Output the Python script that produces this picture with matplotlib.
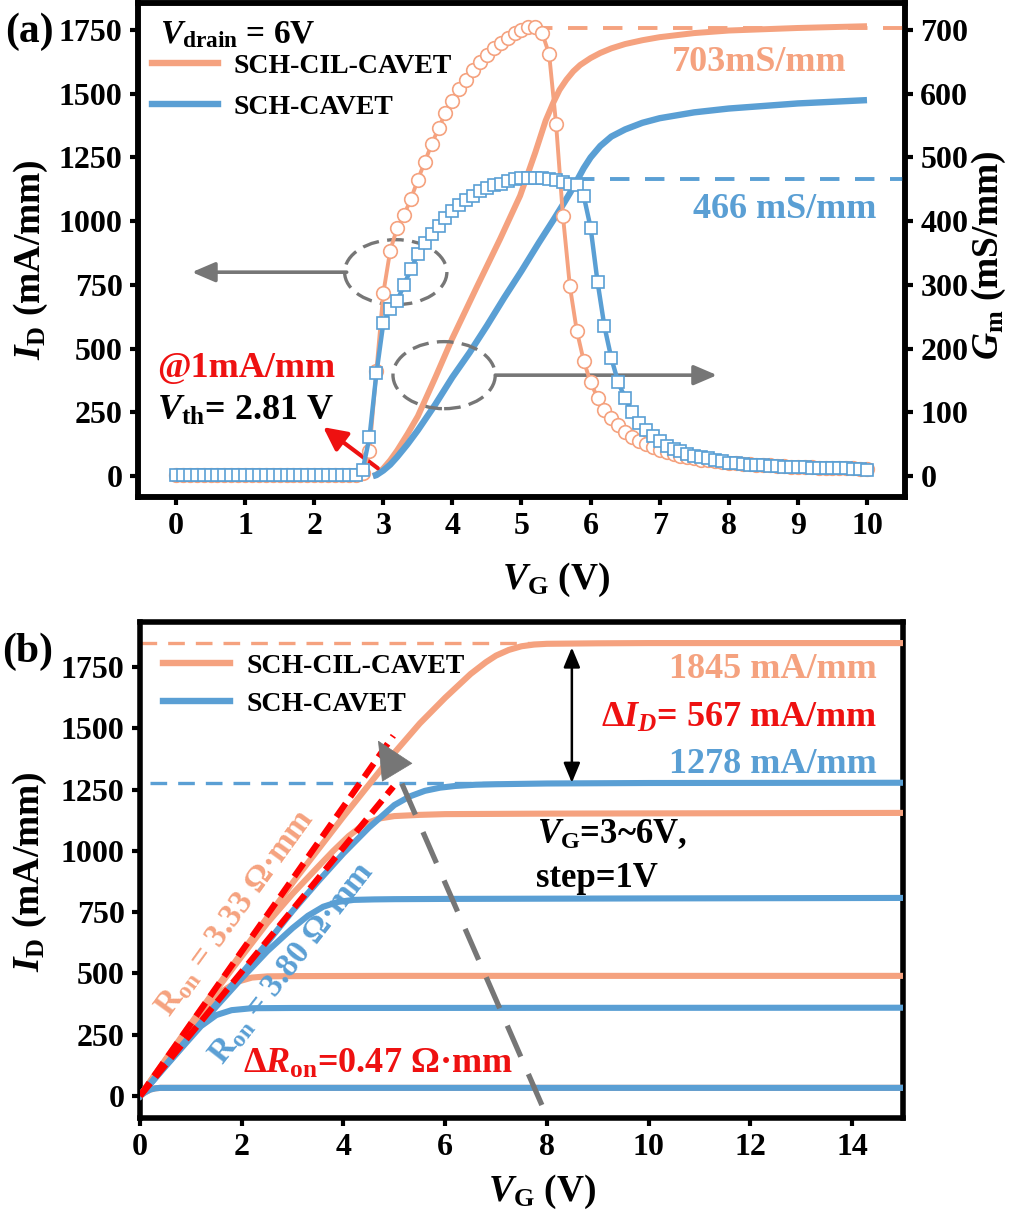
import numpy as np
import matplotlib
matplotlib.use('Agg')
import matplotlib.pyplot as plt
from matplotlib.patches import Ellipse
from matplotlib.lines import Line2D

plt.rcParams.update({
    'font.family': ['Liberation Serif', 'DejaVu Serif'],
    'font.weight': 'bold',
    'axes.labelweight': 'bold',
    'mathtext.fontset': 'custom',
    'mathtext.rm': 'Liberation Serif:bold',
    'mathtext.it': 'Liberation Serif:italic:bold',
    'mathtext.bf': 'Liberation Serif:bold',
    'axes.linewidth': 4,
})

ORANGE = '#F5A27F'
BLUE = '#5A9FD4'
GRAY = '#767676'

# ---------------- (a) transfer data ----------------
vg_id_cil = [2.85, 2.9, 3.0, 3.1, 3.2, 3.35, 3.5, 3.75, 4.0, 4.35, 4.69, 4.98, 5.2, 5.35,
             5.46, 5.55, 5.65, 5.75, 5.85, 6.0, 6.14, 6.3, 6.5, 6.75, 7.0, 7.5, 8.0, 9.0, 10.0]
id_cil = [0, 5, 30, 62, 100, 165, 235, 385, 541, 740, 930, 1100, 1270, 1395,
          1465, 1515, 1555, 1588, 1613, 1640, 1660, 1678, 1695, 1710, 1722, 1738, 1748, 1758, 1765]

vg_id_cav = [2.85, 2.9, 3.0, 3.1, 3.2, 3.35, 3.5, 3.75, 4.0, 4.25, 4.5, 4.75, 5.0, 5.25, 5.46,
             5.6, 5.7, 5.8, 5.9, 6.0, 6.14, 6.3, 6.5, 6.75, 7.0, 7.5, 8.0, 9.0, 10.0]
id_cav = [0, 4, 22, 45, 75, 125, 180, 280, 388, 485, 590, 700, 805, 915, 1004,
          1065, 1110, 1158, 1208, 1250, 1295, 1332, 1360, 1386, 1404, 1427, 1442, 1462, 1475]

vg_gm = np.round(np.arange(0, 10.001, 0.1), 1)
gm_cil = [1] * 26 + [2,
          5, 40, 165,
          287, 354, 389, 410, 435, 465, 493, 521, 546, 570,
          589, 607, 621, 637, 650, 661, 672, 680, 688, 695,
          700, 704, 705, 695, 662, 553, 408, 298, 228, 181,
          147, 123, 104, 91, 80, 69, 61, 55, 50, 45,
          41, 38, 35, 32, 30, 28, 26, 25, 23, 22,
          21,
          20, 19, 19, 18, 17, 17, 16, 16, 15, 15, 14, 14, 13, 13, 13, 12, 12, 12, 11, 11]
gm_cav = [2] * 27 + [
          9, 61, 161,
          240, 262, 275, 300, 325, 348, 365, 380, 393, 405,
          416, 425, 433, 440, 447, 452, 457, 459, 463, 466,
          467, 467, 467, 467, 466, 464, 462, 459, 457, 440,
          390, 305, 235, 185, 147, 122, 100, 84, 72, 63,
          55, 48, 43, 39, 35, 32, 30, 28, 25, 23,
          21,
          20, 19, 18, 18, 17, 16, 16, 15, 15, 14, 14, 13, 13, 13, 12, 12, 12, 11, 11, 10]
gm_peak_cil = 703
gm_peak_cav = 466

# ---------------- (b) output data ----------------
vd_cil_6 = [0, 0.5, 1, 1.5, 2, 2.5, 3, 3.5, 4, 4.5, 5, 5.5, 6, 6.5, 6.8, 7.0, 7.25, 7.5, 7.75, 8, 9, 10, 12, 15]
id_cil_6 = [0, 148, 295, 440, 585, 728, 870, 1005, 1140, 1270, 1400, 1520, 1625, 1722, 1770, 1797, 1820, 1835, 1842, 1845, 1847, 1848, 1848, 1848]
vd_cil_5 = [0, 0.5, 1, 1.5, 2, 2.5, 3, 3.5, 3.8, 4.1, 4.4, 4.7, 5, 5.5, 6, 8, 10, 15]
id_cil_5 = [0, 145, 290, 432, 570, 705, 825, 935, 1000, 1060, 1108, 1132, 1142, 1147, 1150, 1152, 1153, 1155]
vd_cil_4 = [0, 0.5, 1, 1.3, 1.6, 1.9, 2.2, 2.5, 3, 5, 10, 15]
id_cil_4 = [0, 143, 280, 360, 425, 465, 483, 488, 489, 490, 490, 490]
vd_cil_3 = [0, 0.1, 0.2, 0.3, 0.4, 0.6, 1, 15]
id_cil_3 = [0, 15, 26, 31, 33, 33, 33, 33]

vd_cav_6 = [0, 0.5, 1, 1.5, 2, 2.5, 3, 3.5, 4, 4.5, 5, 5.3, 5.6, 5.9, 6.2, 6.6, 7, 8, 10, 15]
id_cav_6 = [0, 125, 250, 375, 500, 625, 755, 875, 990, 1095, 1187, 1222, 1245, 1258, 1265, 1270, 1272, 1275, 1277, 1278]
vd_cav_5 = [0, 0.5, 1, 1.5, 2, 2.5, 3, 3.3, 3.6, 3.9, 4.2, 4.6, 5, 6, 10, 15]
id_cav_5 = [0, 123, 245, 365, 480, 590, 685, 735, 772, 792, 800, 802, 803, 804, 806, 808]
vd_cav_4 = [0, 0.5, 0.9, 1.2, 1.5, 1.8, 2.2, 3, 15]
id_cav_4 = [0, 120, 215, 285, 330, 350, 358, 359, 360]
vd_cav_3 = [0, 0.1, 0.2, 0.3, 0.4, 0.6, 1, 15]
id_cav_3 = [0, 15, 26, 31, 33, 33, 33, 33]

ron_fit_vd = [0, 4.98]
ron_fit_cil = [0, 1470]
ron_fit_cav = [0, 1262]
isat_cil = 1848
isat_cav = 1278

FS_TICK = 23
FS_LAB = 27
FS_ANN = 26
FS_LEG = 20

fig = plt.figure(figsize=(10.25, 12.15), dpi=100)
W, H = 1025, 1215
def rect(l, t, r, b):
    return [l / W, 1 - b / H, (r - l) / W, (b - t) / H]

# ======================= (a) =======================
ax = fig.add_axes(rect(138, 3, 905, 497))
ax2 = ax.twinx()

ax.plot(vg_id_cil, id_cil, color=ORANGE, lw=4.3, solid_capstyle='butt', zorder=3)
ax.plot(vg_id_cav, id_cav, color=BLUE, lw=4.6, solid_capstyle='butt', zorder=3)

ax2.plot(vg_gm, gm_cil, color=ORANGE, lw=2.8, marker='o', ms=9.8, mfc='white',
         mec=ORANGE, mew=1.2, zorder=3)
ax2.plot(vg_gm, gm_cav, color=BLUE, lw=3.2, marker='s', ms=8.8, mfc='white',
         mec=BLUE, mew=1.2, zorder=4)

ax2.plot([5.17, 10.55], [gm_peak_cil, gm_peak_cil], color=ORANGE, lw=2.8,
         dashes=(5, 4), zorder=2)
ax2.plot([5.27, 10.55], [gm_peak_cav, gm_peak_cav], color=BLUE, lw=2.8,
         dashes=(5, 4), zorder=2)

ax.set_xlim(-0.55, 10.55)
ax.set_ylim(-82, 1856)
ax2.set_ylim(-32.8, 742.4)
ax.set_xticks(range(0, 11))
ax.set_yticks([0, 250, 500, 750, 1000, 1250, 1500, 1750])
ax2.set_yticks([0, 100, 200, 300, 400, 500, 600, 700])
for a in (ax, ax2):
    a.tick_params(direction='out', length=6, width=3, pad=5, labelsize=FS_TICK)
    for s in a.spines.values():
        s.set_linewidth(4)

ax.set_xlabel(r'$V_{\mathrm{G}}$ (V)', fontsize=FS_LAB)
ax.set_ylabel(r'$I_{\mathrm{D}}$ (mA/mm)', fontsize=FS_LAB)
ax2.set_ylabel(r'$G_{\mathrm{m}}$ (mS/mm)', fontsize=FS_LAB)
ax.xaxis.set_label_coords(0.545, -0.13)
ax.yaxis.label.set_va('center')
ax.yaxis.set_label_coords(-0.14, 0.48)
ax2.yaxis.label.set_va('center')
ax2.yaxis.set_label_coords(1.11, 0.49)

ax.legend(handles=[Line2D([], [], color=ORANGE, lw=4.6),
                   Line2D([], [], color=BLUE, lw=4.6)],
          labels=['SCH-CIL-CAVET', 'SCH-CAVET'], loc='upper left',
          bbox_to_anchor=(0.018, 0.898), frameon=False, fontsize=FS_LEG,
          handlelength=2.4, handletextpad=0.55, labelspacing=0.55,
          borderpad=0, borderaxespad=0)

ax.text(-0.23, 1699, r'$V_{\mathrm{drain}}$ = 6V', fontsize=24, ha='left', va='baseline')
ax.text(7.18, 1589, '703mS/mm', color=ORANGE, fontsize=FS_ANN, ha='left', va='baseline')
ax.text(7.48, 1012, '466 mS/mm', color=BLUE, fontsize=FS_ANN, ha='left', va='baseline')
ax.text(-0.27, 388, '@1mA/mm', color='#EE1111', fontsize=FS_ANN, ha='left', va='baseline')
ax.text(-0.27, 220, r'$V_{\mathrm{th}}$= 2.81 V', color='black', fontsize=FS_ANN,
        ha='left', va='baseline')

ax.annotate('', xy=(2.13, 192), xytext=(2.92, 31),
            arrowprops=dict(arrowstyle='-|>,head_length=0.7,head_width=0.35',
                            mutation_scale=20, color='#EE1111', lw=3,
                            shrinkA=0, shrinkB=0), zorder=6)

ax.add_patch(Ellipse((3.18, 800), 1.48, 255, fill=False, ec=GRAY, lw=2.4,
                     ls=(0, (5, 2.5)), zorder=5))
ax.add_patch(Ellipse((3.88, 396), 1.48, 263, fill=False, ec=GRAY, lw=2.4,
                     ls=(0, (5, 2.5)), zorder=5))
ax.annotate('', xy=(0.23, 800), xytext=(2.47, 800),
            arrowprops=dict(arrowstyle='-|>,head_length=0.7,head_width=0.3',
                            mutation_scale=20, color=GRAY, lw=2.6,
                            shrinkA=0, shrinkB=0))
ax.annotate('', xy=(7.83, 396), xytext=(4.62, 396),
            arrowprops=dict(arrowstyle='-|>,head_length=0.7,head_width=0.3',
                            mutation_scale=20, color=GRAY, lw=2.6,
                            shrinkA=0, shrinkB=0))

fig.text(5 / W, 1 - 32 / H, '(a)', fontsize=30, ha='left', va='center')

# ======================= (b) =======================
bx = fig.add_axes(rect(140, 622, 903, 1118))

LW = 4.4
for vd, idd in [(vd_cil_3, id_cil_3), (vd_cil_4, id_cil_4), (vd_cil_5, id_cil_5), (vd_cil_6, id_cil_6)]:
    bx.plot(vd, idd, color=ORANGE, lw=LW, zorder=3)
for vd, idd in [(vd_cav_3, id_cav_3), (vd_cav_4, id_cav_4), (vd_cav_5, id_cav_5), (vd_cav_6, id_cav_6)]:
    bx.plot(vd, idd, color=BLUE, lw=LW, zorder=3)

bx.plot([0, 9], [isat_cil, isat_cil], color=ORANGE, lw=2.4, dashes=(5, 3.3), zorder=2)
bx.plot([0.2, 9], [isat_cav, isat_cav], color=BLUE, lw=2.4, dashes=(5, 3.3), zorder=2)

bx.plot(ron_fit_vd, ron_fit_cil, color='#FF0000', lw=4.5, dashes=(2.6, 1.3), zorder=4)
bx.plot(ron_fit_vd, ron_fit_cav, color='#FF0000', lw=4.5, dashes=(2.6, 1.3), zorder=4)

bx.annotate('', xy=(8.49, isat_cav), xytext=(8.49, 1830),
            arrowprops=dict(arrowstyle='<|-|>,head_length=0.6,head_width=0.25',
                            mutation_scale=20, color='black', lw=1.8,
                            shrinkA=0, shrinkB=0), zorder=5)

# gray dashed arrow
bx.plot([7.9, 5.04], [-37, 1326], color=GRAY, lw=3.8, dashes=(6.4, 3.6),
        solid_capstyle='butt', dash_capstyle='butt', zorder=5, clip_on=False)
bx.annotate('', xy=(4.68, 1450), xytext=(5.04, 1326),
            arrowprops=dict(arrowstyle='-|>,head_length=1.3,head_width=0.62',
                            mutation_scale=20, color=GRAY, lw=0.5,
                            shrinkA=0, shrinkB=0), zorder=6)

bx.set_xlim(0, 15)
bx.set_ylim(-90, 1934)
bx.set_xticks([0, 2, 4, 6, 8, 10, 12, 14])
bx.set_yticks([0, 250, 500, 750, 1000, 1250, 1500, 1750])
bx.tick_params(direction='out', length=6, width=3, pad=5, labelsize=FS_TICK)
for s in bx.spines.values():
    s.set_linewidth(4)

bx.set_xlabel(r'$V_{\mathrm{G}}$ (V)', fontsize=FS_LAB)
bx.set_ylabel(r'$I_{\mathrm{D}}$ (mA/mm)', fontsize=FS_LAB)
bx.xaxis.set_label_coords(0.527, -0.11)
bx.yaxis.label.set_va('center')
bx.yaxis.set_label_coords(-0.144, 0.496)

bx.legend(handles=[Line2D([], [], color=ORANGE, lw=4.6),
                   Line2D([], [], color=BLUE, lw=4.6)],
          labels=['SCH-CIL-CAVET', 'SCH-CAVET'], loc='upper left',
          bbox_to_anchor=(0.030, 0.936), frameon=False, fontsize=FS_LEG,
          handlelength=2.4, handletextpad=0.6, labelspacing=0.45,
          borderpad=0, borderaxespad=0)

bx.text(14.49, 1705, '1845 mA/mm', color=ORANGE, fontsize=FS_ANN, ha='right', va='baseline')
bx.text(14.49, 1505, r'$\mathit{\Delta I}_{\mathit{D}}$= 567 mA/mm', color='#EE1111',
        fontsize=FS_ANN, ha='right', va='baseline')
bx.text(14.49, 1318, '1278 mA/mm', color=BLUE, fontsize=FS_ANN, ha='right', va='baseline')
bx.text(7.8, 1032, r'$V_{\mathrm{G}}$=3~6V,', color='black', fontsize=25, ha='left', va='baseline')
bx.text(7.78, 853, 'step=1V', color='black', fontsize=25, ha='left', va='baseline')
bx.text(2.02, 94, r'$\mathit{\Delta R}_{\mathrm{on}}$=0.47 Ω·mm', color='#EE1111',
        fontsize=FS_ANN, ha='left', va='baseline', zorder=6)
bx.text(1.88, 747, r'R$_{\mathrm{on}}$ = 3.33 Ω·mm', color=ORANGE, fontsize=24,
        rotation=54, rotation_mode='anchor', ha='center', va='center', zorder=6)
bx.text(2.98, 543, r'R$_{\mathrm{on}}$ = 3.80 Ω·mm', color=BLUE, fontsize=24,
        rotation=52, rotation_mode='anchor', ha='center', va='center', zorder=6)

fig.text(2 / W, 1 - 652 / H, '(b)', fontsize=30, ha='left', va='center')

fig.savefig('out.png', dpi=100)
